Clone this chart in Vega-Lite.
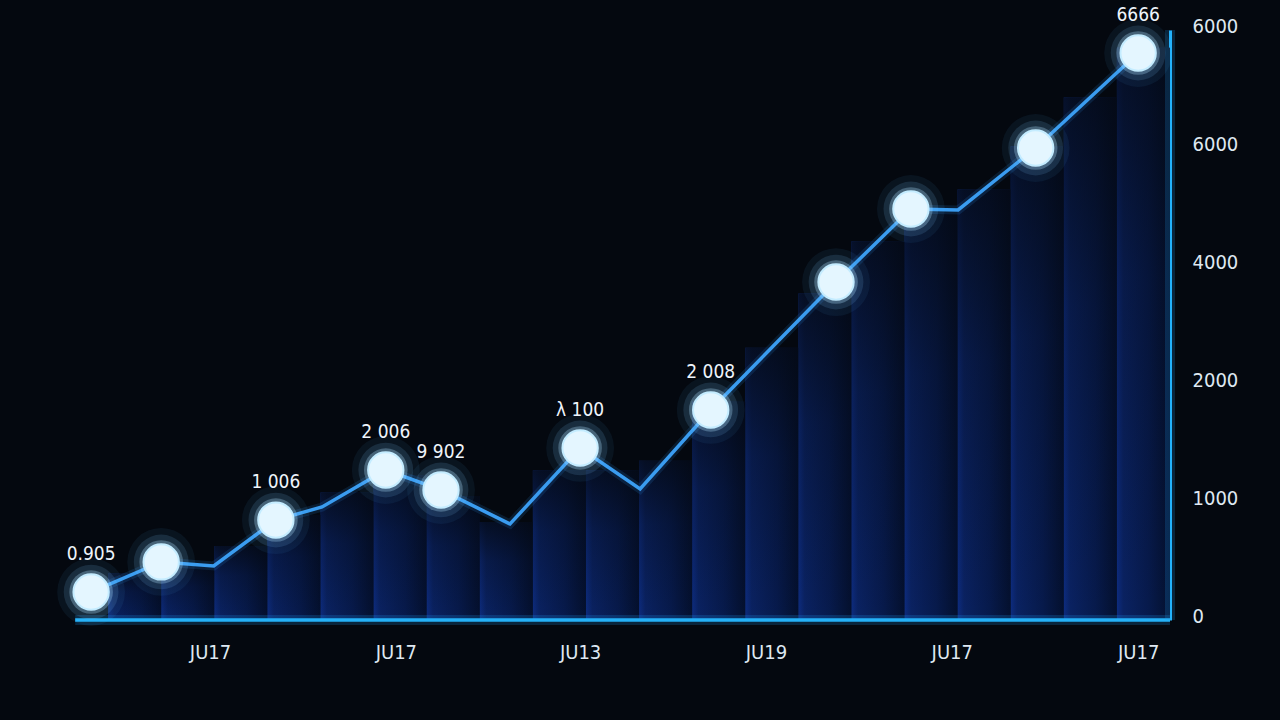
{
  "$schema": "https://vega.github.io/schema/vega-lite/v6.json",
  "width": 1115,
  "height": 590,
  "autosize": "none",
  "padding": {"left": 55, "top": 30, "right": 110, "bottom": 100},
  "background": "#04080f",
  "config": {
    "view": {"stroke": null},
    "font": "Liberation Sans Narrow, DejaVu Sans Condensed, DejaVu Sans, sans-serif"
  },
  "datasets": {
    "bars": [
      {"x0": 1, "x1": 2, "value": 395},
      {"x0": 2, "x1": 3, "value": 475},
      {"x0": 3, "x1": 4, "value": 628},
      {"x0": 4, "x1": 5, "value": 890},
      {"x0": 5, "x1": 6, "value": 1080},
      {"x0": 6, "x1": 7, "value": 1227},
      {"x0": 7, "x1": 8, "value": 1050},
      {"x0": 8, "x1": 9, "value": 830},
      {"x0": 9, "x1": 10, "value": 1268},
      {"x0": 10, "x1": 11, "value": 1270},
      {"x0": 11, "x1": 12, "value": 1350},
      {"x0": 12, "x1": 13, "value": 1850},
      {"x0": 13, "x1": 14, "value": 2308},
      {"x0": 14, "x1": 15, "value": 2767},
      {"x0": 15, "x1": 16, "value": 3210},
      {"x0": 16, "x1": 17, "value": 3480},
      {"x0": 17, "x1": 18, "value": 3650},
      {"x0": 18, "x1": 19, "value": 4015},
      {"x0": 19, "x1": 20, "value": 4430},
      {"x0": 20, "x1": 21, "value": 4850}
    ],
    "series": [
      {"x": 0.68, "y": 237, "kind": "point", "label": "0.905"},
      {"x": 2.0, "y": 492, "kind": "point", "label": ""},
      {"x": 2.99, "y": 458, "kind": "vertex", "label": ""},
      {"x": 4.16, "y": 847, "kind": "point", "label": "1 006"},
      {"x": 5.03, "y": 958, "kind": "vertex", "label": ""},
      {"x": 6.23, "y": 1271, "kind": "point", "label": "2 006"},
      {"x": 7.27, "y": 1102, "kind": "point", "label": "9 902"},
      {"x": 8.57, "y": 814, "kind": "vertex", "label": ""},
      {"x": 9.89, "y": 1458, "kind": "point", "label": "λ 100"},
      {"x": 11.02, "y": 1110, "kind": "vertex", "label": ""},
      {"x": 12.35, "y": 1780, "kind": "point", "label": "2 008"},
      {"x": 14.71, "y": 2864, "kind": "point", "label": ""},
      {"x": 16.12, "y": 3483, "kind": "point", "label": ""},
      {"x": 17.01, "y": 3475, "kind": "vertex", "label": ""},
      {"x": 18.47, "y": 4000, "kind": "point", "label": ""},
      {"x": 20.4, "y": 4805, "kind": "point", "label": "6666"}
    ]
  },
  "layer": [
    {
      "data": {"name": "bars"},
      "mark": {
        "type": "bar",
        "fill": {
          "x1": 0, "y1": 0, "x2": 1, "y2": 0,
          "gradient": "linear",
          "stops": [
            {"offset": 0, "color": "#0d2c80"},
            {"offset": 0.12, "color": "#0a2262"},
            {"offset": 0.6, "color": "#071a4c"},
            {"offset": 1, "color": "#04102e"}
          ]
        }
      },
      "encoding": {
        "x": {
          "field": "x0",
          "type": "quantitative",
          "scale": {"domain": [0, 21], "nice": false, "zero": false},
          "axis": {
            "values": [2.92, 6.42, 9.89, 13.39, 16.89, 20.4],
            "labelExpr": "datum.value < 9 ? 'JU17' : datum.value < 11 ? 'JU13' : datum.value < 15 ? 'JU19' : 'JU17'",
            "domain": false,
            "ticks": false,
            "grid": false,
            "title": null,
            "labelColor": "#dfe8f2",
            "labelFontSize": 20,
            "labelPadding": 22
          }
        },
        "x2": {"field": "x1"},
        "y": {
          "field": "value",
          "type": "quantitative",
          "scale": {"domain": [0, 5000], "nice": false},
          "axis": {
            "orient": "right",
            "values": [0, 1000, 2000, 3000, 4000, 5000],
            "format": "d",
            "labelExpr": "datum.value == 3000 ? '4000' : datum.value >= 4000 ? '6000' : datum.label",
            "domain": true,
            "domainColor": "#25b8ff",
            "domainWidth": 3,
            "ticks": false,
            "grid": false,
            "title": null,
            "labelColor": "#dfe8f2",
            "labelFontSize": 20,
            "labelPadding": 22,
            "labelOffset": -4
          }
        },
        "y2": {"datum": 0}
      }
    },
    {
      "data": {"name": "bars"},
      "mark": {
        "type": "bar",
        "fill": {
          "x1": 0, "y1": 0, "x2": 0, "y2": 1,
          "gradient": "linear",
          "stops": [
            {"offset": 0, "color": "rgba(4,8,15,0.75)"},
            {"offset": 0.4, "color": "rgba(4,8,15,0.3)"},
            {"offset": 1, "color": "rgba(4,8,15,0)"}
          ]
        }
      },
      "encoding": {
        "x": {"field": "x0", "type": "quantitative"},
        "x2": {"field": "x1"},
        "y": {"field": "value", "type": "quantitative"},
        "y2": {"datum": 0}
      }
    },
    {
      "data": {"values": [{}]},
      "mark": {"type": "rule", "color": "#1f9cf0", "strokeWidth": 10, "opacity": 0.2},
      "encoding": {
        "x": {"datum": 0.38, "type": "quantitative"},
        "x2": {"datum": 21},
        "y": {"datum": 0, "type": "quantitative"}
      }
    },
    {
      "data": {"values": [{}]},
      "mark": {"type": "rule", "color": "#25b2f8", "strokeWidth": 3.5},
      "encoding": {
        "x": {"datum": 0.38, "type": "quantitative"},
        "x2": {"datum": 21},
        "y": {"datum": 0, "type": "quantitative"}
      }
    },
    {
      "data": {"values": [{}]},
      "mark": {"type": "rule", "color": "#1f9cf0", "strokeWidth": 10, "opacity": 0.2},
      "encoding": {
        "x": {"datum": 21, "type": "quantitative"},
        "y": {"datum": 0, "type": "quantitative"},
        "y2": {"datum": 5000}
      }
    },
    {
      "data": {"name": "series"},
      "mark": {"type": "line", "color": "#2f95ee", "strokeWidth": 9, "opacity": 0.15},
      "encoding": {
        "x": {"field": "x", "type": "quantitative"},
        "y": {"field": "y", "type": "quantitative"}
      }
    },
    {
      "data": {"name": "series"},
      "mark": {"type": "line", "color": "#3a9cf0", "strokeWidth": 3.5},
      "encoding": {
        "x": {"field": "x", "type": "quantitative"},
        "y": {"field": "y", "type": "quantitative"}
      }
    },
    {
      "data": {"name": "series"},
      "transform": [{"filter": "datum.kind == 'point'"}],
      "mark": {"type": "circle", "color": "#4fb8ff", "opacity": 0.07, "size": 4600},
      "encoding": {
        "x": {"field": "x", "type": "quantitative"},
        "y": {"field": "y", "type": "quantitative"}
      }
    },
    {
      "data": {"name": "series"},
      "transform": [{"filter": "datum.kind == 'point'"}],
      "mark": {"type": "circle", "color": "#7cc8ff", "opacity": 0.14, "size": 3000},
      "encoding": {
        "x": {"field": "x", "type": "quantitative"},
        "y": {"field": "y", "type": "quantitative"}
      }
    },
    {
      "data": {"name": "series"},
      "transform": [{"filter": "datum.kind == 'point'"}],
      "mark": {"type": "circle", "color": "#aee2ff", "opacity": 0.3, "size": 1900},
      "encoding": {
        "x": {"field": "x", "type": "quantitative"},
        "y": {"field": "y", "type": "quantitative"}
      }
    },
    {
      "data": {"name": "series"},
      "transform": [{"filter": "datum.kind == 'point'"}],
      "mark": {"type": "circle", "color": "#e4f6ff", "opacity": 1, "size": 1250, "stroke": "#c4ecff", "strokeWidth": 2},
      "encoding": {
        "x": {"field": "x", "type": "quantitative"},
        "y": {"field": "y", "type": "quantitative"}
      }
    },
    {
      "data": {"name": "series"},
      "transform": [{"filter": "datum.label != ''"}],
      "mark": {"type": "text", "color": "#eef4fb", "fontSize": 19, "dy": -38, "baseline": "middle", "align": "center"},
      "encoding": {
        "x": {"field": "x", "type": "quantitative"},
        "y": {"field": "y", "type": "quantitative"},
        "text": {"field": "label"}
      }
    }
  ]
}
